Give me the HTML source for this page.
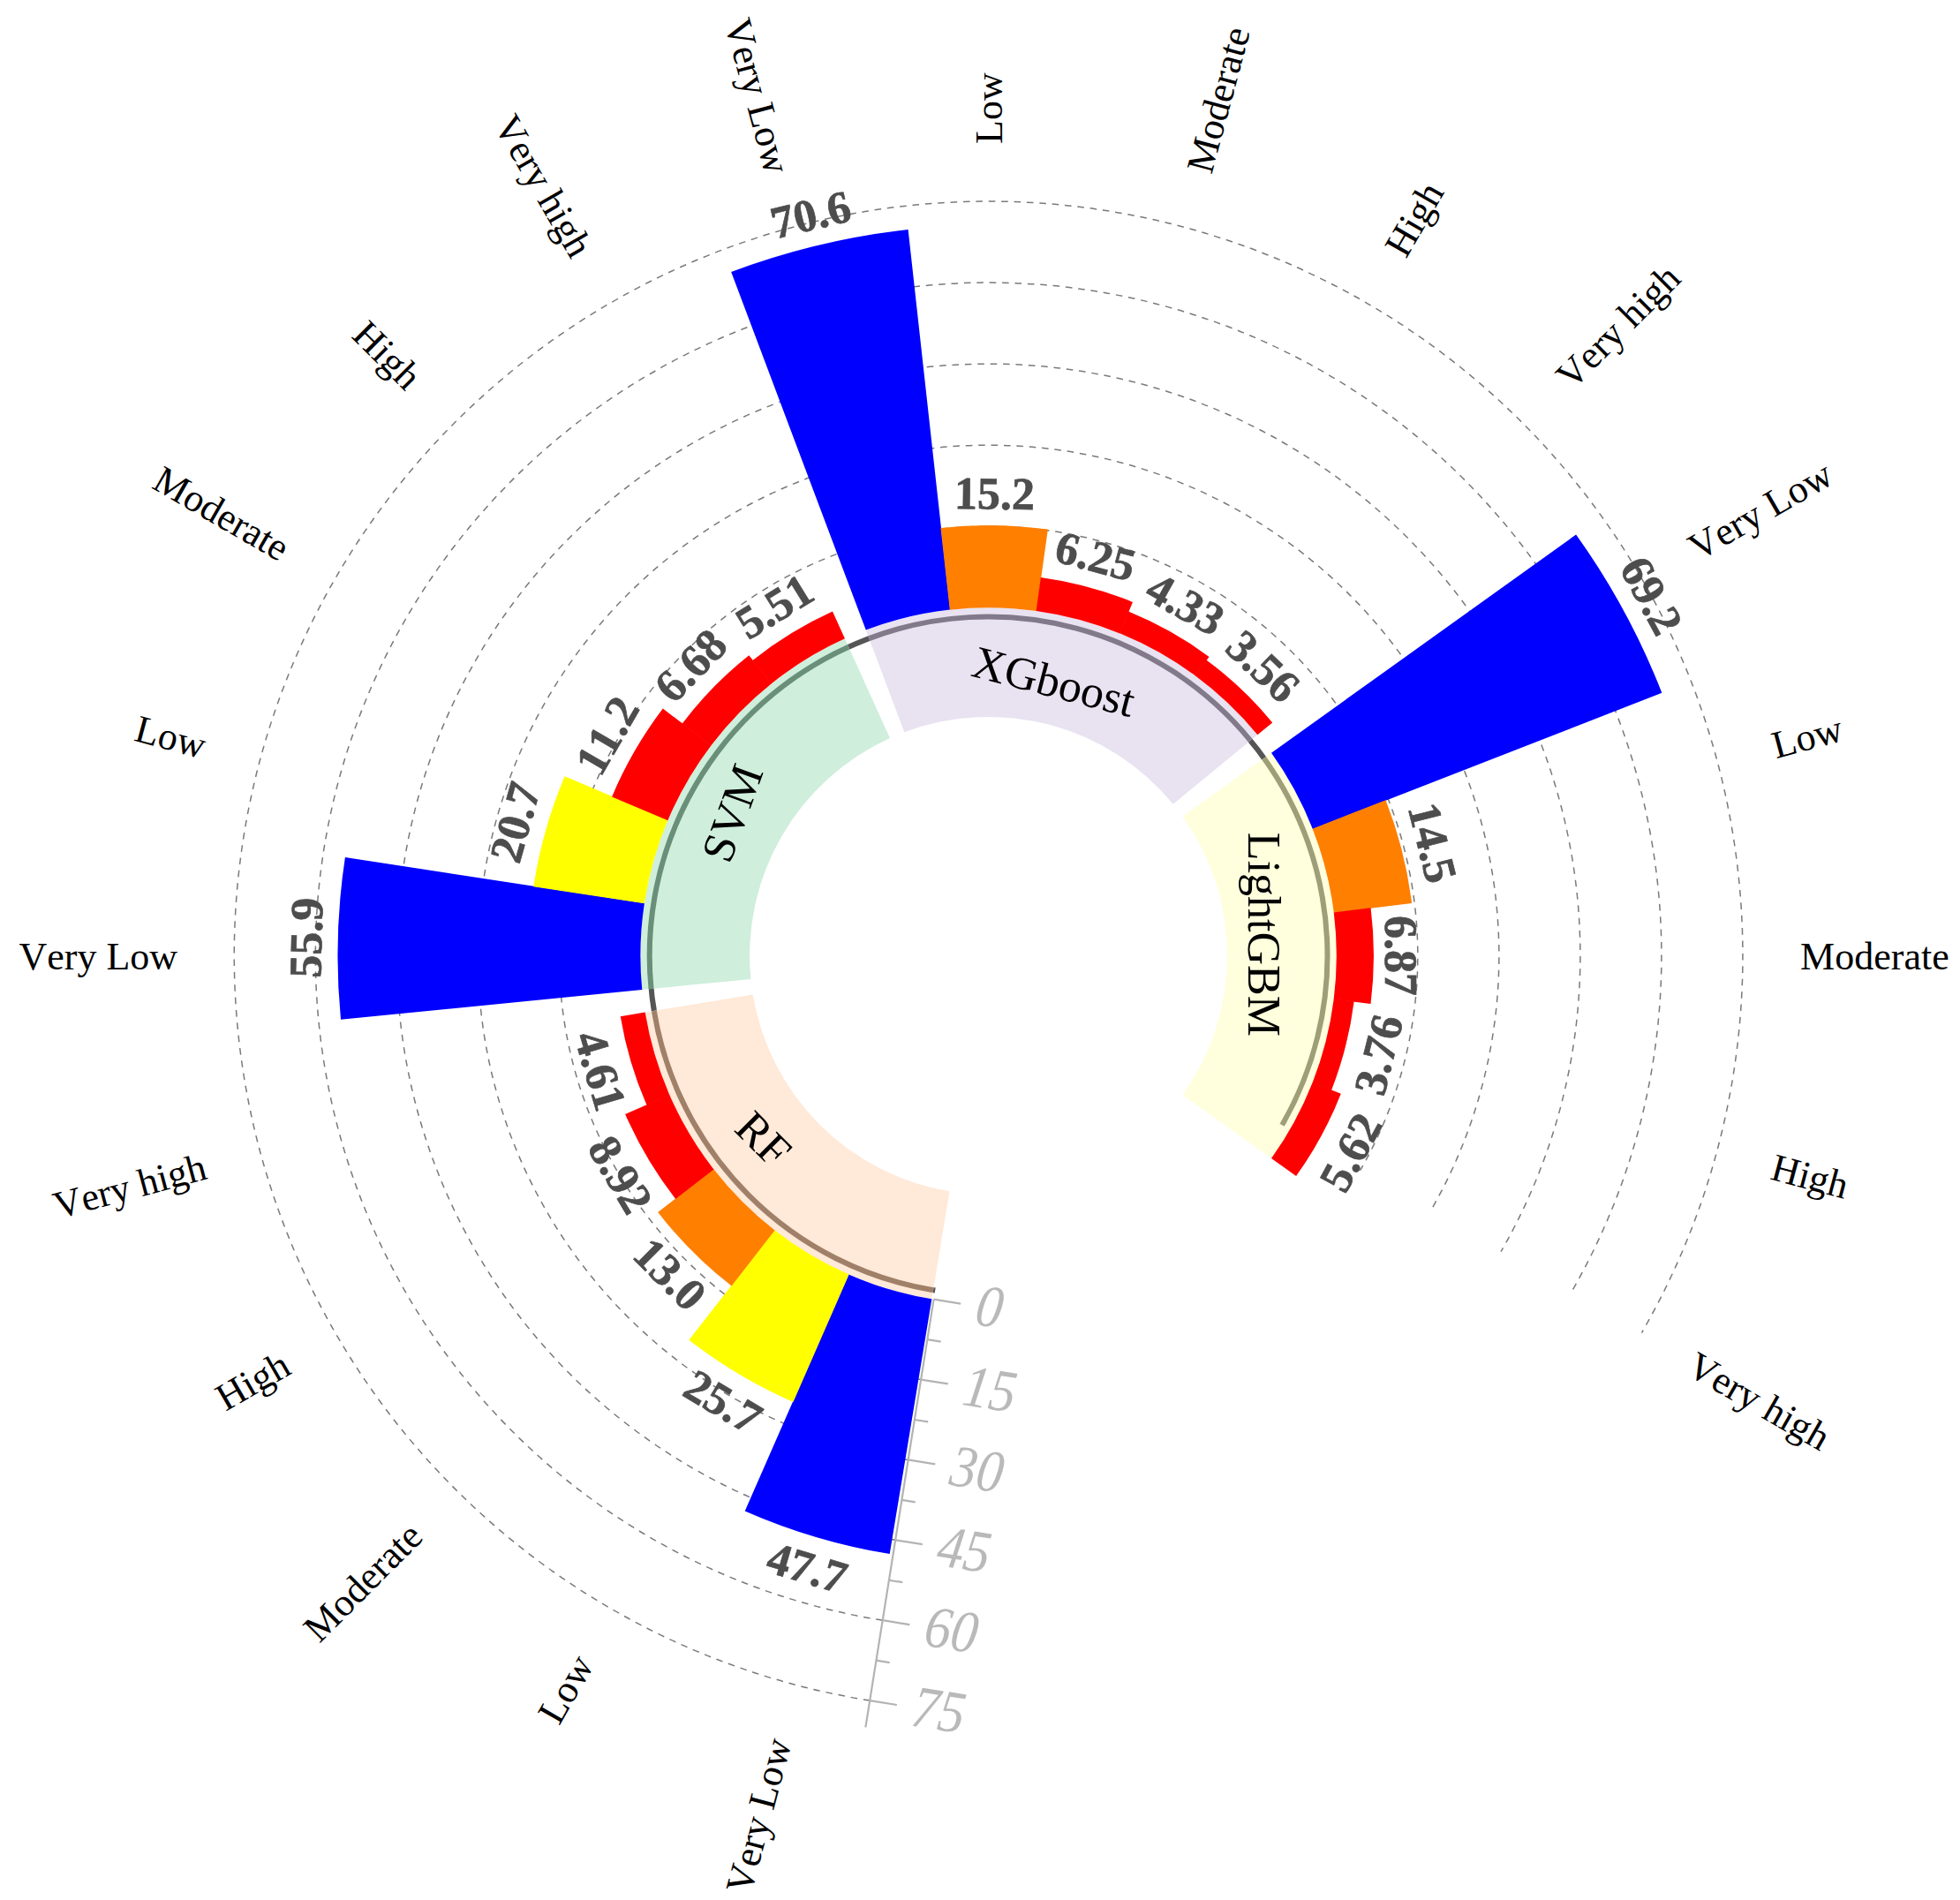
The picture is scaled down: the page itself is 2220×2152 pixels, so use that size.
<!DOCTYPE html>
<html lang="en"><head><meta charset="utf-8"><title>Polar bar chart</title>
<style>
html,body{margin:0;padding:0;background:#fff;}
body{width:2220px;height:2152px;overflow:hidden;}
svg{display:block;}
text{white-space:pre;font-kerning:none;}
</style></head><body>
<svg width="2220" height="2152" viewBox="0 0 2220 2152">
<rect width="2220" height="2152" fill="#ffffff"/>
<g id="grid">
<path d="M1043.12 1562.57A486.22 486.22 0 1 1 1540.68 1325.51" fill="none" stroke="#7a7a7a" stroke-width="1.5" stroke-dasharray="7.6 6.8"/>
<path d="M1028.64 1653.45A578.25 578.25 0 1 1 1620.38 1371.53" fill="none" stroke="#7a7a7a" stroke-width="1.5" stroke-dasharray="7.6 6.8"/>
<path d="M1014.17 1744.33A670.27 670.27 0 1 1 1700.08 1417.54" fill="none" stroke="#7a7a7a" stroke-width="1.5" stroke-dasharray="7.6 6.8"/>
<path d="M999.69 1835.21A762.3 762.3 0 1 1 1779.77 1463.55" fill="none" stroke="#7a7a7a" stroke-width="1.5" stroke-dasharray="7.6 6.8"/>
<path d="M985.22 1926.09A854.33 854.33 0 1 1 1859.47 1509.56" fill="none" stroke="#7a7a7a" stroke-width="1.5" stroke-dasharray="7.6 6.8"/>
</g>
<g id="base">
<path d="M1059.21 1461.52A383.9 383.9 0 1 1 1452.07 1274.35" fill="none" stroke="#555555" stroke-width="6"/>
</g>
<g id="ring">
<path d="M1075.54 1349.29L1055.39 1471.33A394.2 394.2 0 0 1 730.67 1146.61L852.71 1126.46A270.5 270.5 0 0 0 1075.54 1349.29Z" fill="#FFE9D8"/>
<path d="M1057.06 1461.17A383.9 383.9 0 0 1 740.83 1144.94" fill="none" stroke="#A08068" stroke-width="6"/>
<path d="M850.4 1108.91L727.3 1121.04A394.2 394.2 0 0 1 956.91 723.34L1007.96 836.01A270.5 270.5 0 0 0 850.4 1108.91Z" fill="#CFEEDC"/>
<path d="M737.55 1120.03A383.9 383.9 0 0 1 961.16 732.72" fill="none" stroke="#6A8F78" stroke-width="6"/>
<path d="M1024.32 829.24L980.74 713.47A394.2 394.2 0 0 1 1424.32 832.32L1328.7 910.8A270.5 270.5 0 0 0 1024.32 829.24Z" fill="#E8E2F1"/>
<path d="M984.37 723.11A383.9 383.9 0 0 1 1416.36 838.86" fill="none" stroke="#827A8A" stroke-width="6"/>
<path d="M1339.48 924.84L1440.02 852.79A394.2 394.2 0 0 1 1440.02 1312.01L1339.48 1239.96A270.5 270.5 0 0 0 1339.48 924.84Z" fill="#FFFFDD"/>
<path d="M1431.65 858.79A383.9 383.9 0 0 1 1452.07 1274.35" fill="none" stroke="#9E9E78" stroke-width="6"/>
</g>
<g id="bars">
<path d="M1055.39 1471.33L1007.72 1760.07A686.84 686.84 0 0 1 843.69 1711.39L961.25 1443.4A394.2 394.2 0 0 0 1055.39 1471.33Z" fill="#0000FF"/>
<path d="M961.62 1443.56L898.44 1588.02A551.87 551.87 0 0 1 780.33 1517.66L877.26 1393.31A394.2 394.2 0 0 0 961.62 1443.56Z" fill="#FFFF00"/>
<path d="M877.58 1393.56L828.62 1456.52A473.95 473.95 0 0 1 745.18 1372.99L808.18 1324.09A394.2 394.2 0 0 0 877.58 1393.56Z" fill="#FF7F00"/>
<path d="M808.44 1324.42L765.24 1358.01A448.92 448.92 0 0 1 708.11 1261.88L758.27 1240A394.2 394.2 0 0 0 808.44 1324.42Z" fill="#FF0000"/>
<path d="M758.44 1240.38L732.53 1251.71A422.48 422.48 0 0 1 702.76 1151.22L730.67 1146.61A394.2 394.2 0 0 0 758.44 1240.38Z" fill="#FF0000"/>
<path d="M727.3 1121.04L386 1154.65A737.15 737.15 0 0 1 390.91 971.09L729.92 1022.88A394.2 394.2 0 0 0 727.3 1121.04Z" fill="#0000FF"/>
<path d="M729.86 1023.28L604.3 1004.24A521.19 521.19 0 0 1 639.61 879.3L756.56 928.79A394.2 394.2 0 0 0 729.86 1023.28Z" fill="#FFFF00"/>
<path d="M756.4 929.17L693.09 902.46A462.91 462.91 0 0 1 750.8 802.62L805.55 844.15A394.2 394.2 0 0 0 756.4 929.17Z" fill="#FF0000"/>
<path d="M805.3 844.48L772.62 819.74A435.18 435.18 0 0 1 848.31 742.13L873.85 774.17A394.2 394.2 0 0 0 805.3 844.48Z" fill="#FF0000"/>
<path d="M873.53 774.43L852.43 748.02A428 428 0 0 1 942.96 692.55L956.91 723.34A394.2 394.2 0 0 0 873.53 774.43Z" fill="#FF0000"/>
<path d="M980.74 713.47L828.17 308.1A827.33 827.33 0 0 1 1028.6 260.09L1076.24 690.59A394.2 394.2 0 0 0 980.74 713.47Z" fill="#0000FF"/>
<path d="M1075.83 690.64L1065.48 597.96A487.45 487.45 0 0 1 1186.89 599.62L1174.02 691.97A394.2 394.2 0 0 0 1075.83 690.64Z" fill="#FF7F00"/>
<path d="M1173.61 691.92L1178.86 653.94A432.54 432.54 0 0 1 1282.93 681.88L1268.45 717.38A394.2 394.2 0 0 0 1173.61 691.92Z" fill="#FF0000"/>
<path d="M1268.07 717.23L1278.07 692.62A420.76 420.76 0 0 1 1369.5 743.88L1353.72 765.25A394.2 394.2 0 0 0 1268.07 717.23Z" fill="#FF0000"/>
<path d="M1353.39 765.01L1366.34 747.42A416.04 416.04 0 0 1 1441.2 818.47L1424.32 832.32A394.2 394.2 0 0 0 1353.39 765.01Z" fill="#FF0000"/>
<path d="M1440.02 852.79L1785.11 605.5A818.74 818.74 0 0 1 1882.34 784.79L1486.84 939.11A394.2 394.2 0 0 0 1440.02 852.79Z" fill="#0000FF"/>
<path d="M1486.68 938.73L1569.52 906.3A483.16 483.16 0 0 1 1599.09 1022.97L1510.81 1033.92A394.2 394.2 0 0 0 1486.68 938.73Z" fill="#FF7F00"/>
<path d="M1510.76 1033.51L1552.58 1028.28A436.35 436.35 0 0 1 1552.52 1136.98L1510.7 1131.7A394.2 394.2 0 0 0 1510.76 1033.51Z" fill="#FF0000"/>
<path d="M1510.76 1131.29L1533.65 1134.16A417.27 417.27 0 0 1 1508.01 1234.89L1486.53 1226.46A394.2 394.2 0 0 0 1510.76 1131.29Z" fill="#FF0000"/>
<path d="M1486.68 1226.07L1518.79 1238.64A428.68 428.68 0 0 1 1468.05 1332.1L1440.02 1312.01A394.2 394.2 0 0 0 1486.68 1226.07Z" fill="#FF0000"/>
</g>
<g id="axis" stroke="#b3b3b3" stroke-width="2.2" fill="none">
<path d="M1057.59 1471.69L980.39 1956.38"/>
<path d="M1057.59 1471.69L1088.21 1476.57"/>
<path d="M1050.36 1517.13L1065.66 1519.57"/>
<path d="M1043.12 1562.57L1073.73 1567.45"/>
<path d="M1035.88 1608.01L1051.19 1610.45"/>
<path d="M1028.64 1653.45L1059.26 1658.33"/>
<path d="M1021.41 1698.89L1036.71 1701.33"/>
<path d="M1014.17 1744.33L1044.78 1749.21"/>
<path d="M1006.93 1789.77L1022.24 1792.21"/>
<path d="M999.69 1835.21L1030.31 1840.09"/>
<path d="M992.46 1880.65L1007.76 1883.09"/>
<path d="M985.22 1926.09L1015.83 1930.97"/>
</g>
<g id="axlab" font-family="'Liberation Serif', serif" font-style="italic" font-size="65" fill="#b9b9b9">
<text transform="translate(1105.98 1479.4) rotate(9.05) scale(0.92 1.04)" x="0" y="19.8">0</text>
<text transform="translate(1091.51 1570.28) rotate(9.05) scale(0.92 1.04)" x="0" y="19.8">15</text>
<text transform="translate(1077.03 1661.16) rotate(9.05) scale(0.92 1.04)" x="0" y="19.8">30</text>
<text transform="translate(1062.56 1752.04) rotate(9.05) scale(0.92 1.04)" x="0" y="19.8">45</text>
<text transform="translate(1048.08 1842.92) rotate(9.05) scale(0.92 1.04)" x="0" y="19.8">60</text>
<text transform="translate(1033.61 1933.8) rotate(9.05) scale(0.92 1.04)" x="0" y="19.8">75</text>
</g>
<g id="vals" font-family="'Liberation Serif', serif" font-weight="bold" font-size="52" fill="#4d4d4d" stroke="#4d4d4d" stroke-width="0.7" text-anchor="middle">
<text transform="translate(914.3 1775.47) rotate(16.5)" x="0" y="17.6">47.7</text>
<text transform="translate(819.03 1587.62) rotate(30.75)" x="0" y="17.6">25.7</text>
<text transform="translate(759.01 1442.99) rotate(45)" x="0" y="17.6">13.0</text>
<text transform="translate(702.85 1330.34) rotate(59.25)" x="0" y="17.6">8.92</text>
<text transform="translate(680 1212.62) rotate(73.5)" x="0" y="17.6">4.61</text>
<text transform="translate(346.72 1062.16) rotate(-88.5)" x="0" y="17.6">55.9</text>
<text transform="translate(583.33 931.15) rotate(-74.25)" x="0" y="17.6">20.7</text>
<text transform="translate(687.53 832.94) rotate(-60)" x="0" y="17.6">11.2</text>
<text transform="translate(782.09 753.61) rotate(-45.75)" x="0" y="17.6">6.68</text>
<text transform="translate(877.16 686.77) rotate(-31.5)" x="0" y="17.6">5.51</text>
<text transform="translate(918.06 242.92) rotate(-13.5)" x="0" y="17.6">70.6</text>
<text transform="translate(1126.45 558.99) rotate(0.75)" x="0" y="17.6">15.2</text>
<text transform="translate(1240.87 629.82) rotate(15)" x="0" y="17.6">6.25</text>
<text transform="translate(1342.78 683.87) rotate(29.25)" x="0" y="17.6">4.33</text>
<text transform="translate(1430.76 754.5) rotate(43.5)" x="0" y="17.6">3.56</text>
<text transform="translate(1870.76 674.55) rotate(61.5)" x="0" y="17.6">69.2</text>
<text transform="translate(1622.78 954.61) rotate(75.75)" x="0" y="17.6">14.5</text>
<text transform="translate(1586.15 1082.4) rotate(90)" x="0" y="17.6">6.87</text>
<text transform="translate(1561.34 1194.59) rotate(-75.75)" x="0" y="17.6">3.76</text>
<text transform="translate(1529.73 1305.08) rotate(-61.5)" x="0" y="17.6">5.62</text>
</g>
<g id="rlab" font-family="'Liberation Serif', serif" font-size="52" fill="#000" text-anchor="middle">
<text transform="translate(864.72 1290.27) rotate(45)" x="0" y="17.2">RF</text>
<text transform="translate(829.68 921.03) rotate(-70)" x="0" y="17.2">SVM</text>
<text transform="translate(1193.5 772.18) rotate(14.5)" x="0" y="17.2">XGboost</text>
<text transform="translate(1431.18 1058.43) rotate(90)" x="0" y="17.2">LightGBM</text>
</g>
<g id="olab" font-family="'Liberation Serif', serif" font-size="44" fill="#000">
<text transform="translate(881.87 1969.6) rotate(-75)" x="0" y="15.3" text-anchor="end">Very Low</text>
<text transform="translate(660.35 1877.84) rotate(-60)" x="0" y="15.3" text-anchor="end">Low</text>
<text transform="translate(470.12 1731.88) rotate(-45)" x="0" y="15.3" text-anchor="end">Moderate</text>
<text transform="translate(324.16 1541.65) rotate(-30)" x="0" y="15.3" text-anchor="end">High</text>
<text transform="translate(232.4 1320.13) rotate(-15)" x="0" y="15.3" text-anchor="end">Very high</text>
<text transform="translate(201.1 1082.4) rotate(0)" x="0" y="15.3" text-anchor="end">Very Low</text>
<text transform="translate(232.4 844.67) rotate(15)" x="0" y="15.3" text-anchor="end">Low</text>
<text transform="translate(324.16 623.15) rotate(30)" x="0" y="15.3" text-anchor="end">Moderate</text>
<text transform="translate(470.12 432.92) rotate(45)" x="0" y="15.3" text-anchor="end">High</text>
<text transform="translate(660.35 286.96) rotate(60)" x="0" y="15.3" text-anchor="end">Very high</text>
<text transform="translate(881.87 195.2) rotate(75)" x="0" y="15.3" text-anchor="end">Very Low</text>
<text transform="translate(1119.6 162.9) rotate(-90)" x="0" y="15.3" text-anchor="start">Low</text>
<text transform="translate(1357.58 194.23) rotate(-75)" x="0" y="15.3" text-anchor="start">Moderate</text>
<text transform="translate(1579.35 286.09) rotate(-60)" x="0" y="15.3" text-anchor="start">High</text>
<text transform="translate(1769.78 432.22) rotate(-45)" x="0" y="15.3" text-anchor="start">Very high</text>
<text transform="translate(1915.91 622.65) rotate(-30)" x="0" y="15.3" text-anchor="start">Very Low</text>
<text transform="translate(2007.77 844.42) rotate(-15)" x="0" y="15.3" text-anchor="start">Low</text>
<text transform="translate(2039.1 1082.4) rotate(0)" x="0" y="15.3" text-anchor="start">Moderate</text>
<text transform="translate(2007.77 1320.38) rotate(15)" x="0" y="15.3" text-anchor="start">High</text>
<text transform="translate(1915.91 1542.15) rotate(30)" x="0" y="15.3" text-anchor="start">Very high</text>
</g>
</svg>
</body></html>
